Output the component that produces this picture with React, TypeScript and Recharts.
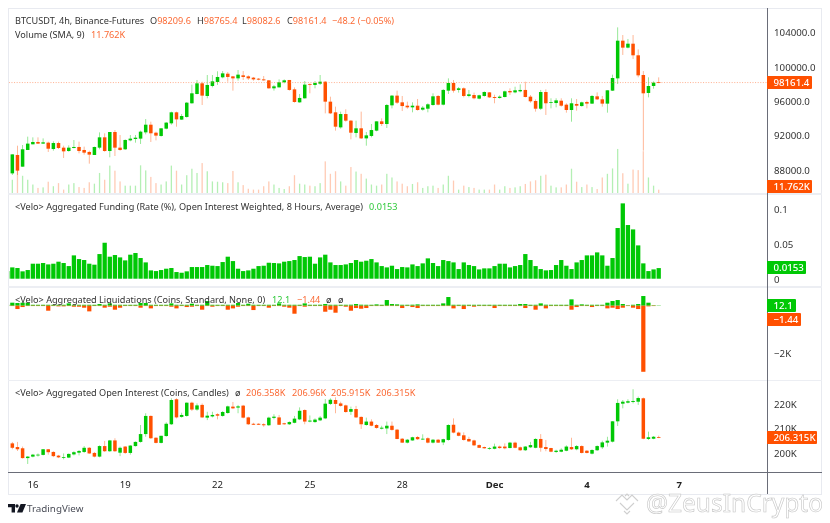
import React from "react";
import { Bar, ComposedChart, ReferenceLine, XAxis, YAxis } from "recharts";

const GREEN = "#00c805";
const ORANGE = "#ff5000";
const FONT = '"Noto Sans", sans-serif';

// The first entry of each series is the candle cut off by the left edge of the pane.
const opens = [88400,
  87600,89740,88380,90320,90980,91250,91060,91170,90430,91130,
  90590,90200,90550,90670,90320,90090,89740,90590,91790,90200,
  92410,90590,90400,91440,91600,91640,92370,93260,92330,91950,
  92800,93420,94700,93850,94160,95750,96830,98070,96600,97760,
  98230,98770,99190,98880,98650,99000,98880,98730,98610,98530,
  98420,97490,97600,98190,98460,97370,95860,96330,97990,97880,
  98030,98260,95940,94700,92950,94500,93730,92300,92840,91670,
  91950,92570,93650,93340,95510,96640,95860,95470,95280,95470,
  95010,95120,95550,96600,95590,97220,98110,97300,97490,96600,
  96710,96290,96600,97020,96480,96370,96480,97180,97020,97140,
  97300,96520,96020,95120,97060,95820,95780,96050,95590,94970,
  95670,95430,95900,95710,96560,96210,95710,97220,98650,103030,
  102220,102680,101330,99040,96950,97760,98209.6];
const highs = [88500,
  89810,90820,90900,91870,91790,91790,91670,91290,91330,91290,
  90820,90860,91480,91290,90710,90240,90710,92370,92260,92410,
  92640,92060,91560,92060,92060,92570,93920,93610,92450,92840,
  93570,94780,94780,94500,95900,97920,98460,98260,99040,99040,
  99470,99500,99390,98920,99620,99500,99000,98810,98690,98920,
  98460,97880,98530,98530,98460,97600,96830,98340,98070,98340,
  99040,98340,96520,95360,94780,95050,93810,93730,94780,92410,
  93340,93650,94000,95670,96710,97220,96600,95940,95860,96250,
  95430,95750,96910,96710,97410,98650,98460,97640,97600,97300,
  96990,96750,97140,97060,96750,96680,97220,97490,97680,97950,
  98260,96710,96210,97300,97370,96330,96330,96330,95750,96330,
  96250,95940,96050,96710,97020,96600,97260,99080,104580,103690,
  103230,103690,102020,99500,98770,98300,98765.4];
const lows = [87300,
  87410,87410,88380,90320,90980,91020,91020,90090,90240,90430,
  89390,90120,90510,89930,89780,88730,89740,90400,90120,89470,
  89620,90240,90320,91330,91170,91020,92140,91250,91440,91870,
  92720,93260,93030,93810,94080,95710,96790,95550,96330,97600,
  97880,98650,98260,97220,98380,98460,98460,98380,98420,98380,
  97450,97220,97600,98070,97220,95820,95820,96290,96910,97490,
  97880,94580,94500,92570,92800,93610,91560,91790,91600,90820,
  91790,92490,93110,92880,95160,95670,94850,95120,94700,94890,
  94890,94700,95470,95510,95510,96830,96990,96990,96440,96440,
  96210,96210,96520,96370,95750,96290,96440,96710,96910,97020,
  96440,95820,94780,94970,94390,95160,95280,95360,94660,93610,
  94890,95360,95160,95670,96130,95360,94660,97180,97990,101370,
  102140,100900,98770,90240,96440,97450,98082.6];
const closes = [87700,
  89810,87920,90400,91060,91250,91060,91210,90470,91130,90550,
  90160,90590,90670,90200,90010,89780,90670,91790,90200,92410,
  90590,90320,91480,91640,91750,92450,93260,92260,91990,92840,
  93500,94700,93880,94270,95820,96910,98070,96640,97880,98300,
  98810,99230,98810,98650,99080,98810,98650,98530,98500,98420,
  97490,97720,98190,98420,97300,95900,96370,97920,97920,98110,
  98260,95940,94580,93030,94500,93730,92330,92840,91670,92020,
  92640,93650,93340,95550,96640,95820,95430,95280,95470,94970,
  95240,95630,96560,95590,97300,98110,97220,97490,96600,96790,
  96330,96680,97060,96440,96370,96520,97140,97020,97260,97300,
  96480,95980,95120,97060,95750,95900,96090,95470,94970,95750,
  95470,95860,95710,96600,96210,95710,97260,98690,103030,102220,
  102680,101330,99000,96910,97760,98150,98161.4];

const volumes = [20,
  47,98,61,47,30,18,20,40,24,35,
  12,30,35,21,18,38,33,71,47,97,
  79,41,26,26,26,98,80,57,35,30,
  41,97,79,30,63,86,71,106,77,41,
  40,38,35,78,38,28,15,12,12,24,
  41,30,18,14,24,63,33,30,26,24,
  35,112,68,77,41,26,92,76,68,51,
  30,26,30,68,55,41,33,24,32,38,
  18,24,26,18,30,61,44,12,26,21,
  18,12,12,12,30,12,24,18,20,24,
  32,41,45,61,65,26,20,20,30,86,
  40,21,30,21,14,55,68,87,156,70,
  33,83,81,148,55,26,11.762];

const funding = [0.011,
  0.0163,0.0154,0.0106,0.0125,0.0216,0.0216,0.0226,0.0206,0.0216,0.0245,
  0.0226,0.0182,0.0336,0.0283,0.0269,0.0216,0.0202,0.0355,0.0518,0.0317,
  0.0341,0.0307,0.0264,0.0346,0.037,0.0298,0.0235,0.012,0.011,0.0125,
  0.0144,0.0154,0.0096,0.0086,0.0106,0.0168,0.0168,0.0168,0.0197,0.0187,
  0.0182,0.024,0.0317,0.0254,0.0144,0.011,0.012,0.0144,0.0182,0.0187,
  0.023,0.0226,0.0221,0.0245,0.0254,0.0269,0.0326,0.0312,0.0317,0.0216,
  0.0307,0.0346,0.0235,0.0197,0.0197,0.0206,0.0226,0.0269,0.0245,0.0259,
  0.0283,0.0235,0.0182,0.0163,0.0187,0.0139,0.0168,0.0163,0.0206,0.0182,
  0.0221,0.0293,0.0226,0.0182,0.0269,0.0254,0.0235,0.0139,0.0235,0.0197,
  0.0182,0.0134,0.0149,0.0149,0.0182,0.0216,0.0216,0.0163,0.0182,0.0197,
  0.0355,0.0269,0.0182,0.0139,0.012,0.0125,0.0197,0.0269,0.0187,0.0139,
  0.0235,0.0269,0.0336,0.0336,0.0379,0.0336,0.0187,0.0298,0.073,0.1085,
  0.0773,0.071,0.048,0.0221,0.011,0.0134,0.0153];

const liqLong = [40,
  128,114,128,128,40,40,40,40,40,40,
  40,99,40,40,40,40,40,71,40,99,
  40,40,40,40,40,114,114,40,40,40,
  40,99,40,40,40,85,40,40,199,40,
  40,40,40,40,114,40,85,40,40,40,
  40,40,99,40,40,40,40,99,40,40,
  43,71,40,40,40,40,43,71,43,40,
  40,57,40,241,71,57,40,40,43,57,
  40,40,40,40,99,369,40,40,40,40,
  40,40,40,40,40,40,40,40,40,71,
  71,40,40,99,43,40,40,40,40,270,
  40,57,40,40,40,40,128,199,241,71,
  20,40,71,412,128,20,12.1];
const liqShort = [-15,
  -15,-142,-57,-15,-15,-15,-15,-213,-15,-28,
  -28,-15,-43,-43,-85,-241,-15,-15,-85,-43,
  -170,-85,-15,-15,-15,-85,-15,-114,-15,-15,
  -15,-43,-114,-15,-57,-43,-15,-170,-15,-43,
  -15,-15,-170,-114,-43,-15,-15,-185,-15,-15,
  -85,-15,-15,-43,-85,-341,-15,-43,-15,-15,
  -15,-256,-170,-298,-15,-43,-213,-99,-128,-99,
  -15,-15,-15,-15,-15,-15,-99,-15,-57,-99,
  -15,-15,-15,-15,-15,-15,-114,-15,-142,-15,
  -43,-15,-15,-15,-99,-15,-15,-15,-15,-15,
  -99,-15,-170,-15,-114,-15,-15,-15,-15,-170,
  -57,-15,-15,-57,-15,-15,-114,-85,-142,-85,
  -15,-85,-142,-2812,-28,-15,-1.44];

const oiOpen = [201.4,
  203.8,202.3,201.8,197.8,198.4,198.9,199.1,201.4,200.3,198.8,
  198.0,198.0,199.3,200.0,200.3,202.0,199.9,198.4,202.7,200.6,
  205.0,200.0,202.5,199.9,202.7,204.4,207.6,215.0,206.1,204.0,
  206.8,211.6,221.8,214.6,215.0,220.4,217.6,219.5,214.3,214.8,
  215.7,215.0,216.2,218.8,218.4,219.2,214.4,211.8,211.8,211.6,
  211.2,214.2,214.4,212.0,211.6,212.2,213.6,217.4,212.7,212.5,
  213.2,214.0,219.9,221.5,220.1,219.3,216.7,217.8,214.6,211.3,
  212.7,211.3,209.8,209.9,211.0,209.4,205.7,204.1,205.0,206.4,
  205.5,205.9,204.1,205.3,204.2,205.2,211.4,208.2,207.1,205.6,
  205.0,203.1,202.3,201.6,201.6,202.5,202.5,201.9,204.1,202.2,
  201.0,202.2,202.0,205.6,202.3,201.9,200.3,200.4,200.8,202.3,
  201.4,202.7,200.8,199.6,201.0,202.2,204.1,204.5,212.8,220.0,
  220.4,220.7,220.8,222.2,205.6,205.7,206.358];
const oiHigh = [203.5,
  204.4,204.4,202.5,198.6,199.5,199.7,201.5,201.5,200.6,199.1,
  199.7,199.7,200.6,201.1,202.7,202.3,200.3,203.0,204.8,205.2,
  205.9,202.5,202.7,203.1,204.6,211.3,216.1,215.2,206.3,206.9,
  212.4,222.2,222.2,216.3,220.5,220.8,220.1,220.1,216.7,216.7,
  216.1,217.0,219.2,220.7,219.5,219.5,214.7,212.2,212.0,212.0,
  214.7,215.7,215.4,212.2,212.8,215.0,218.5,217.7,215.2,214.0,
  215.0,221.9,222.2,222.6,220.8,219.6,218.8,219.1,214.8,214.3,
  213.6,211.7,211.0,212.7,212.7,209.7,206.0,205.6,206.5,206.8,
  207.5,206.3,205.6,205.6,205.7,211.6,214.0,208.6,208.3,206.5,
  205.3,203.4,202.5,202.3,203.7,202.9,203.8,204.4,204.5,202.5,
  202.7,204.4,205.9,207.6,205.2,202.0,201.2,201.8,203.0,206.1,
  203.1,203.0,201.1,201.4,203.0,204.9,206.5,212.9,221.8,221.5,
  221.8,225.9,222.9,222.5,208.6,206.8,206.96];
const oiLow = [201.4,
  201.4,200.7,197.6,195.4,198.1,198.4,198.9,199.2,198.2,197.8,
  197.3,197.8,198.9,198.9,199.9,199.5,198.1,198.1,200.3,200.3,
  200.3,198.6,199.5,199.2,202.5,204.1,206.5,205.6,203.8,203.8,
  206.5,211.3,214.0,214.3,214.7,217.0,217.1,214.2,213.3,214.4,
  213.6,214.7,215.9,217.8,216.1,214.0,211.3,211.3,211.3,210.6,
  210.9,213.6,211.3,211.4,211.3,212.0,213.3,211.6,212.4,212.2,
  212.9,213.7,219.5,216.1,218.8,216.3,215.4,214.2,209.7,211.0,
  210.8,209.8,209.5,207.6,209.0,205.5,204.0,203.8,204.9,205.2,
  205.2,203.8,203.8,204.0,203.1,204.9,207.9,206.7,204.9,204.5,
  202.7,201.9,201.6,201.2,201.4,201.6,201.4,201.8,201.8,200.7,
  200.7,201.9,201.8,200.4,200.6,200.2,199.9,200.2,200.6,201.1,
  201.0,199.7,199.7,199.3,200.7,201.5,202.5,204.2,210.9,218.1,
  220.1,220.1,219.5,205.5,205.2,205.5,205.915];
const oiClose = [203.5,
  202.0,201.4,197.8,198.4,199.2,199.2,201.4,200.2,198.6,198.1,
  198.2,199.5,200.2,200.7,202.0,199.7,198.4,202.7,200.6,205.0,
  200.6,202.0,199.9,202.9,204.4,207.6,215.0,205.9,204.0,206.9,
  211.8,221.5,214.4,215.4,220.4,217.6,219.3,214.4,215.1,215.4,
  215.1,216.6,218.9,218.1,218.9,214.3,211.6,211.4,211.4,211.2,
  214.3,214.7,211.4,211.6,212.5,213.9,217.1,212.7,213.1,213.5,
  214.3,220.0,221.6,219.9,219.1,216.6,217.8,214.4,211.6,212.7,
  211.0,210.1,210.2,211.0,209.3,205.6,204.1,205.3,206.3,205.5,
  205.7,204.1,205.3,204.1,205.5,211.3,208.2,206.9,205.2,204.6,
  203.0,202.0,201.8,201.9,202.5,201.9,201.8,204.1,202.0,201.0,
  202.5,203.1,205.6,202.0,201.5,200.4,200.8,201.2,202.5,201.4,
  202.7,199.9,199.9,201.1,202.7,204.2,204.9,212.8,220.3,220.8,
  221.0,221.1,222.3,205.7,206.3,206.5,206.315];

const BAND_COUNT = 149; // 127 candles plus empty bands reaching the price scale
const timeTickBands = [5, 23, 41, 59, 77, 95, 113, 131];
const timeTickLabels = ["16", "19", "22", "25", "28", "Dec", "4", "7"];
const priceTicks = [88000, 92000, 96000, 100000, 104000];
const fundingTicks = [0, 0.05, 0.1];
const liqTicks = [-2000];
const oiTicks = [200, 210, 220];
const lastPrice = 98161.4;

const bands = Array.from({ length: BAND_COUNT }, (_, t) => t);
const priceRows = bands.map((t) => ({ t, o: opens[t], h: highs[t], l: lows[t], c: closes[t] }));
const oiRows = bands.map((t) => ({ t, o: oiOpen[t], h: oiHigh[t], l: oiLow[t], c: oiClose[t] }));
const volumeRows = bands.map((t) => ({ t, v: volumes[t], up: closes[t] >= opens[t] }));
const fundingRows = bands.map((t) => ({ t, f: funding[t] }));
const liqRows = bands.map((t) => ({ t, a: liqLong[t], b: liqShort[t] }));

const range = (d: any) => (d.h === undefined ? undefined : [d.l, d.h]);

const Candle = (props: any) => {
  const { x, y, width, height, payload } = props;
  if (!payload || payload.h === undefined) return null;
  const top = Math.min(y, y + height);
  const span = Math.abs(height);
  const per = span / (payload.h - payload.l || 1);
  const cx = x + width / 2;
  const up = payload.c >= payload.o;
  const color = up ? GREEN : ORANGE;
  const bodyTop = top + (payload.h - Math.max(payload.o, payload.c)) * per;
  const bodyH = Math.max(Math.abs(payload.o - payload.c) * per, 0.8);
  return (
    <g>
      <rect x={cx - 0.45} y={top} width={0.9} height={span} fill={color} fillOpacity={0.45} />
      <rect x={cx - 1.75} y={bodyTop} width={3.5} height={bodyH} fill={color} />
    </g>
  );
};

const VolumeBar = (props: any) => {
  const { x, y, width, height, payload } = props;
  if (!payload || payload.v === undefined) return null;
  return (
    <rect x={x + width / 2 - 0.65} y={y} width={1.3} height={height} fill={payload.up ? "#b4efb4" : "#ffcbb5"} />
  );
};

const SolidBar = (color: string, w: number) => (props: any) => {
  const { x, y, width, height } = props;
  if (height === undefined || Number.isNaN(height)) return null;
  return (
    <rect
      x={x + width / 2 - w / 2}
      y={Math.min(y, y + height)}
      width={w}
      height={Math.abs(height)}
      fill={color}
    />
  );
};

const TimeTick = (props: any) => {
  const { x, y, payload } = props;
  const label = timeTickLabels[timeTickBands.indexOf(payload.value)];
  const strong = label === "Dec" || label === "4" || label === "7";
  return (
    <text
      x={x}
      y={y}
      textAnchor="middle"
      dominantBaseline="central"
      fontFamily={FONT}
      fontSize={9.6}
      fontWeight={strong ? 700 : 400}
      fill="#222"
    >
      {label}
    </text>
  );
};

const W = 830;
const LEFT = 4.7;
const AXIS_W = 60.93;
const tickStyle = { fontFamily: FONT, fontSize: 9.7, fill: "#333", dy: 0.5 };

const Pane = ({ top, height, children }: any) => (
  <div style={{ position: "absolute", left: 8, top, width: 814, height, overflow: "hidden" }}>
    <div style={{ position: "absolute", left: -8, top: 0 }}>{children}</div>
  </div>
);

const Layer = ({ children }: any) => <div style={{ position: "absolute", left: 0, top: 0 }}>{children}</div>;

const T = ({ x, y, c = "#333", size = 9.15, children, weight = 400 }: any) => (
  <div
    style={{
      position: "absolute",
      left: x,
      top: y,
      transform: "translateY(-50%)",
      color: c,
      fontFamily: FONT,
      fontSize: size,
      fontWeight: weight,
      whiteSpace: "nowrap",
      lineHeight: 1,
    }}
  >
    {children}
  </div>
);

const Tag = ({ top, width, bg, children }: any) => (
  <div
    style={{
      position: "absolute",
      left: 767,
      top,
      width,
      height: 13,
      background: bg,
      color: "#fff",
      fontFamily: FONT,
      fontSize: 9.7,
      fontWeight: 500,
      lineHeight: "13px",
      paddingLeft: 6.5,
      boxSizing: "border-box",
      borderRadius: "0 1px 1px 0",
      whiteSpace: "nowrap",
    }}
  >
    {children}
  </div>
);

const Line = ({ x, y, w, h, c }: any) => (
  <div style={{ position: "absolute", left: x, top: y, width: w, height: h, background: c }} />
);

const O = "#fb6a35";
const G = "#2fc93a";

export default function App() {
  return (
    <div
      style={{
        position: "absolute",
        left: 0,
        top: 0,
        width: W,
        height: 523,
        background: "#fff",
        overflow: "hidden",
        filter: "blur(0.3px)",
      }}
    >
      <Pane top={8} height={185}>
        <Layer>
          <ComposedChart width={W} height={185} data={volumeRows} margin={{ top: 0, bottom: 0, left: LEFT, right: AXIS_W }} barCategoryGap={0}>
            <XAxis dataKey="t" hide />
            <YAxis hide domain={[0, 655]} allowDataOverflow />
            <Bar dataKey="v" isAnimationActive={false} shape={VolumeBar} />
          </ComposedChart>
        </Layer>
        <Layer>
          <ComposedChart width={W} height={185} data={priceRows} margin={{ top: 0, bottom: 0, left: LEFT, right: 0 }} barCategoryGap={0}>
            <XAxis dataKey="t" hide />
            <YAxis
              orientation="right"
              width={AXIS_W}
              domain={[85318, 106830]}
              allowDataOverflow
              ticks={priceTicks}
              axisLine={false}
              tickLine={false}
              tickSize={0}
              tickMargin={5}
              tick={tickStyle}
              tickFormatter={(v: number) => v.toFixed(1)}
              interval={0}
            />
            <ReferenceLine y={lastPrice} stroke="#ff7a45" strokeOpacity={0.75} strokeWidth={0.8} strokeDasharray="1 1.6" />
            <Bar dataKey={range} isAnimationActive={false} shape={Candle} />
          </ComposedChart>
        </Layer>
      </Pane>

      <Pane top={194} height={92}>
        <ComposedChart width={W} height={92} data={fundingRows} margin={{ top: 0, bottom: 0, left: LEFT, right: 0 }} barCategoryGap={0}>
          <XAxis dataKey="t" hide />
          <YAxis
            orientation="right"
            width={AXIS_W}
            domain={[-0.0105, 0.122]}
            allowDataOverflow
            ticks={fundingTicks}
            axisLine={false}
            tickLine={false}
            tickSize={0}
            tickMargin={5}
            tick={tickStyle}
            interval={0}
          />
          <Bar dataKey="f" isAnimationActive={false} shape={SolidBar(GREEN, 4.3)} />
        </ComposedChart>
      </Pane>

      <Pane top={287} height={93}>
        <ComposedChart width={W} height={93} data={liqRows} stackOffset="sign" margin={{ top: 0, bottom: 0, left: LEFT, right: 0 }} barCategoryGap={0}>
          <XAxis dataKey="t" hide />
          <YAxis
            orientation="right"
            width={AXIS_W}
            domain={[-3162, 796]}
            allowDataOverflow
            ticks={liqTicks}
            axisLine={false}
            tickLine={false}
            tickSize={0}
            tickMargin={5}
            tick={tickStyle}
            tickFormatter={(v: number) => "\u2212" + Math.abs(v) / 1000 + "K"}
            interval={0}
          />
          <Bar dataKey="a" stackId="liq" isAnimationActive={false} shape={SolidBar(GREEN, 4.2)} />
          <Bar dataKey="b" stackId="liq" isAnimationActive={false} shape={SolidBar(ORANGE, 4.2)} />
        </ComposedChart>
      </Pane>

      <Pane top={380} height={114}>
        <ComposedChart width={W} height={114} data={oiRows} margin={{ top: 0, bottom: 0, left: LEFT, right: 0 }} barCategoryGap={0}>
          <XAxis
            dataKey="t"
            height={21.7}
            ticks={timeTickBands}
            interval={0}
            axisLine={false}
            tickLine={false}
            tickSize={0}
            tickMargin={12}
            tick={TimeTick}
          />
          <YAxis
            orientation="right"
            width={AXIS_W}
            domain={[192, 229.66]}
            allowDataOverflow
            ticks={oiTicks}
            axisLine={false}
            tickLine={false}
            tickSize={0}
            tickMargin={5}
            tick={tickStyle}
            tickFormatter={(v: number) => v + "K"}
            interval={0}
          />
          <Bar dataKey={range} isAnimationActive={false} shape={Candle} />
        </ComposedChart>
      </Pane>

      {/* frame, pane separators and scale lines */}
      <Line x={8} y={8} w={814} h={1} c="#e8eaf0" />
      <Line x={8} y={8} w={1} h={486} c="#e8eaf0" />
      <Line x={821} y={8} w={1} h={486} c="#e8eaf0" />
      <Line x={8} y={494} w={814} h={1} c="#e8eaf0" />
      <Line x={8} y={193} w={814} h={1.5} c="#eceef3" />
      <Line x={8} y={286} w={814} h={1.5} c="#eceef3" />
      <Line x={8} y={380} w={814} h={1.2} c="#eceef3" />
      <Line x={767} y={8} w={1} h={486} c="#6a6d78" />
      <Line x={8} y={472} w={814} h={1} c="#6a6d78" />

      {/* legends */}
      <T x={15} y={21}>BTCUSDT, 4h, Binance-Futures</T>
      <T x={150} y={21}>O<span style={{ color: O }}>98209.6</span></T>
      <T x={197} y={21}>H<span style={{ color: O }}>98765.4</span></T>
      <T x={242} y={21}>L<span style={{ color: O }}>98082.6</span></T>
      <T x={287} y={21}>C<span style={{ color: O }}>98161.4</span></T>
      <T x={332} y={21} c={O}>−48.2 (−0.05%)</T>
      <T x={15} y={35}>Volume (SMA, 9)</T>
      <T x={91} y={35} c={O}>11.762K</T>

      <T x={15} y={207}>{"<Velo> Aggregated Funding (Rate (%), Open Interest Weighted, 8 Hours, Average)"}</T>
      <T x={369} y={207} c={G}>0.0153</T>

      <T x={15} y={300}>{"<Velo> Aggregated Liquidations (Coins, Standard, None, 0)"}</T>
      <T x={272} y={300} c={G}>12.1</T>
      <T x={297} y={300} c={O}>−1.44</T>
      <T x={326} y={300}>ø</T>
      <T x={338} y={300}>ø</T>

      <T x={15} y={393}>{"<Velo> Aggregated Open Interest (Coins, Candles)"}</T>
      <T x={235} y={393}>ø</T>
      <T x={246} y={393} c={O}>206.358K</T>
      <T x={292} y={393} c={O}>206.96K</T>
      <T x={331} y={393} c={O}>205.915K</T>
      <T x={376} y={393} c={O}>206.315K</T>

      {/* last-value tags */}
      <Tag top={76} width={45} bg={ORANGE}>98161.4</Tag>
      <Tag top={180} width={45} bg={ORANGE}>11.762K</Tag>
      <Tag top={261} width={39} bg={GREEN}>0.0153</Tag>
      <Tag top={299} width={29} bg={GREEN}>12.1</Tag>
      <Tag top={313} width={34} bg={ORANGE}>−1.44</Tag>
      <Tag top={431} width={50} bg={ORANGE}>206.315K</Tag>

      {/* TradingView attribution */}
      <svg style={{ position: "absolute", left: 8, top: 504 }} width={18} height={10} viewBox="0 0 18 10">
        <path d="M0 0h7v8.5H3.6V3.2H0z" fill="#131722" />
        <circle cx="9" cy="2" r="1.7" fill="#131722" />
        <path d="M12.6 0H18l-3.6 8.5H9z" fill="#131722" />
      </svg>
      <T x={27} y={509} size={9.8} c="#4a4d57">TradingView</T>

      {/* watermark */}
      <svg style={{ position: "absolute", left: 612, top: 490 }} width={30} height={26} viewBox="0 0 30 26">
        <g fill="none" stroke="#cfcfcf" strokeWidth={1.1}>
          <path d="M4 11l6-6 5 5 5-5 6 6" />
          <path d="M8 13l7 7 7-7" />
          <path d="M12 21l3 3 3-3" />
          <path d="M13 6l2-2 2 2" />
        </g>
      </svg>
      <div
        style={{
          position: "absolute",
          left: 646,
          top: 492,
          fontFamily: FONT,
          fontSize: 24.5,
          lineHeight: "22px",
          color: "rgba(255,255,255,0.6)",
          WebkitTextStroke: "0.6px #c6c6c6",
          whiteSpace: "nowrap",
        }}
      >
        @ZeusInCrypto
      </div>
    </div>
  );
}
